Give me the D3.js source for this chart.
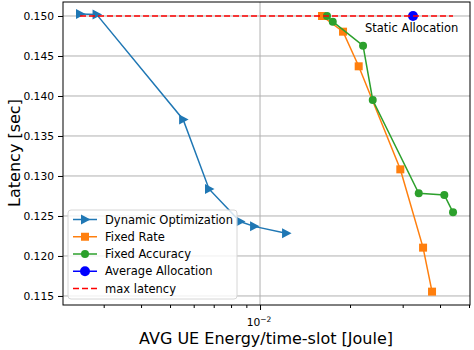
<!DOCTYPE html>
<html>
<head>
<meta charset="utf-8">
<script src="https://cdn.jsdelivr.net/npm/d3@7"></script>
<style>
  body { margin: 0; background: #fff; }
  text { font-family: "DejaVu Sans", sans-serif; fill: #000; }
</style>
</head>
<body>
<svg id="chart" width="474" height="350"></svg>
<script>
// energy (Joule) vs latency (sec)
const dynEnergy = [0.00250, 0.00284, 0.00553, 0.00675, 0.00857, 0.00955, 0.01222]
const dynLatency = [0.15025, 0.15020, 0.13706, 0.12838, 0.12430, 0.12370, 0.12284]

const rateEnergy = [0.01612, 0.01895, 0.02138, 0.02946, 0.03510, 0.03761]
const rateLatency = [0.15000, 0.14804, 0.14371, 0.13083, 0.12104, 0.11554]

const accEnergy = [0.01675, 0.01751, 0.02211, 0.02382, 0.03395, 0.04134, 0.04421]
const accLatency = [0.15000, 0.14929, 0.14629, 0.13950, 0.12783, 0.12763, 0.12546]

const avgEnergy = [0.03249]
const avgLatency = [0.150]

const maxLatency = 0.150
const yTicks = [0.115, 0.120, 0.125, 0.130, 0.135, 0.140, 0.145, 0.150]
const xMajor = [0.01]
const xMinor = [0.003, 0.004, 0.005, 0.006, 0.007, 0.008, 0.009, 0.02, 0.03, 0.04, 0.05]

const svg = d3.select("#chart")
const plot = {left: 63, right: 470, top: 2, bottom: 305}

const x = d3.scaleLog()
    .domain([Math.pow(10, -2.659), Math.pow(10, -1.2977)])
    .range([plot.left, plot.right])
const y = d3.scaleLinear()
    .domain([0.11387, 0.15175])
    .range([plot.bottom, plot.top])

// grid
const grid = svg.append("g").attr("stroke", "#b0b0b0").attr("stroke-width", 1)
yTicks.forEach(t => {
    grid.append("line")
        .attr("x1", plot.left).attr("x2", plot.right)
        .attr("y1", y(t)).attr("y2", y(t))
})
xMajor.forEach(t => {
    grid.append("line")
        .attr("x1", x(t)).attr("x2", x(t))
        .attr("y1", plot.top).attr("y2", plot.bottom)
})

// axes
const yAxis = d3.axisLeft(y)
    .tickValues(yTicks)
    .tickFormat(d3.format(".3f"))
    .tickSize(5)
    .tickPadding(4)
const gy = svg.append("g")
    .attr("transform", "translate(" + plot.left + ",0)")
    .call(yAxis)
gy.select(".domain").remove()
gy.selectAll("text").style("font-size", "10.7px").style("font-family", "DejaVu Sans")

const xMinorAxis = d3.axisBottom(x)
    .tickValues(xMinor)
    .tickFormat("")
    .tickSize(3)
const gxm = svg.append("g")
    .attr("transform", "translate(0," + plot.bottom + ")")
    .call(xMinorAxis)
gxm.select(".domain").remove()

const xAxis = d3.axisBottom(x)
    .tickValues(xMajor)
    .tickFormat("")
    .tickSize(5)
const gx = svg.append("g")
    .attr("transform", "translate(0," + plot.bottom + ")")
    .call(xAxis)
gx.select(".domain").remove()

xMajor.forEach(t => {
    const lab = svg.append("text")
        .attr("x", x(t) - 1)
        .attr("y", 326)
        .attr("text-anchor", "middle")
        .style("font-size", "10.7px")
    lab.append("tspan").text("10")
    lab.append("tspan").attr("dy", -4).style("font-size", "7.5px").text("\u2212" + Math.round(-Math.log10(t)))
})

// series
function drawSeries(xs, ys, color) {
    const pts = xs.map((d, i) => [x(d), y(ys[i])])
    svg.append("path")
        .attr("d", d3.line()(pts))
        .attr("fill", "none")
        .attr("stroke", color)
        .attr("stroke-width", 1.5)
    return pts
}

function marker(g, kind, cx, cy, color) {
    if (kind === "tri") {
        g.append("path")
            .attr("d", "M" + (cx + 5.5) + "," + cy + "L" + (cx - 4) + "," + (cy - 5) + "L" + (cx - 4) + "," + (cy + 5) + "Z")
            .attr("fill", color)
    } else if (kind === "sq") {
        g.append("rect")
            .attr("x", cx - 4).attr("y", cy - 4)
            .attr("width", 8).attr("height", 8)
            .attr("fill", color)
    } else if (kind === "big") {
        g.append("circle").attr("cx", cx).attr("cy", cy).attr("r", 5).attr("fill", color)
    } else {
        g.append("circle").attr("cx", cx).attr("cy", cy).attr("r", 4).attr("fill", color)
    }
}

const series = [
    {name: "Dynamic Optimization", xs: dynEnergy, ys: dynLatency, color: "#1f77b4", kind: "tri"},
    {name: "Fixed Rate", xs: rateEnergy, ys: rateLatency, color: "#ff7f0e", kind: "sq"},
    {name: "Fixed Accuracy", xs: accEnergy, ys: accLatency, color: "#2ca02c", kind: "circ"},
    {name: "Average Allocation", xs: avgEnergy, ys: avgLatency, color: "#0000ff", kind: "big"}
]

series.forEach(s => {
    const pts = drawSeries(s.xs, s.ys, s.color)
    const g = svg.append("g")
    pts.forEach(p => marker(g, s.kind, p[0], p[1], s.color))
})

// max latency line spans the data range
const allEnergy = dynEnergy.concat(rateEnergy, accEnergy, avgEnergy)
svg.append("line")
    .attr("x1", x(d3.min(allEnergy))).attr("x2", x(d3.max(allEnergy)))
    .attr("y1", y(maxLatency)).attr("y2", y(maxLatency))
    .attr("stroke", "#ff0000")
    .attr("stroke-width", 1.5)
    .attr("stroke-dasharray", "6,3")

svg.append("text")
    .attr("x", 365)
    .attr("y", 32)
    .style("font-size", "11.5px")
    .text("Static Allocation")

// frame
svg.append("rect")
    .attr("x", plot.left).attr("y", plot.top)
    .attr("width", plot.right - plot.left).attr("height", plot.bottom - plot.top)
    .attr("fill", "none").attr("stroke", "#000").attr("stroke-width", 1)

// legend
const legend = svg.append("g")
legend.append("rect")
    .attr("x", 68).attr("y", 210)
    .attr("width", 169).attr("height", 89)
    .attr("rx", 3)
    .attr("fill", "#fff").attr("fill-opacity", 0.8)
    .attr("stroke", "#d6d6d6")

const legendItems = series.concat([{name: "max latency", color: "#ff0000", kind: "dash"}])
legendItems.forEach((s, i) => {
    const ly = 219.5 + i * 17.25
    const ln = legend.append("line")
        .attr("x1", 73).attr("x2", 97)
        .attr("y1", ly).attr("y2", ly)
        .attr("stroke", s.color).attr("stroke-width", 1.5)
    if (s.kind === "dash") ln.attr("stroke-dasharray", "6,3")
    else marker(legend, s.kind, 85, ly, s.color)
    legend.append("text")
        .attr("x", 105).attr("y", ly)
        .attr("dy", "0.36em")
        .style("font-size", "11.5px")
        .text(s.name)
})

// axis labels
svg.append("text")
    .attr("x", 266).attr("y", 344)
    .attr("text-anchor", "middle")
    .style("font-size", "16px")
    .text("AVG UE Energy/time-slot [Joule]")

svg.append("text")
    .attr("transform", "translate(20,153) rotate(-90)")
    .attr("text-anchor", "middle")
    .style("font-size", "16px")
    .text("Latency [sec]")
</script>
</body>
</html>
